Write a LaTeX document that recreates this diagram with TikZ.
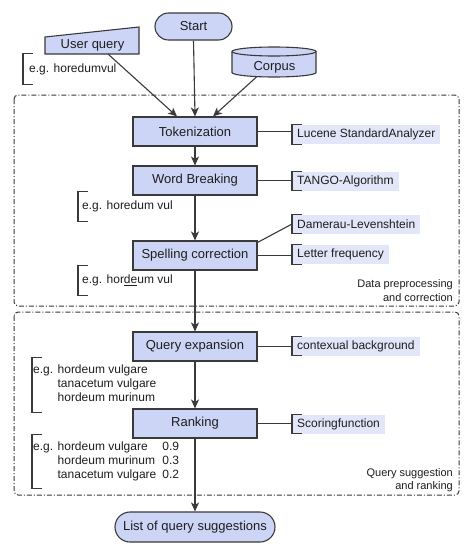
\documentclass[tikz,border=0pt]{standalone}
\usepackage{fontspec}
\setmainfont{Liberation Sans}
\usetikzlibrary{arrows.meta}
\definecolor{boxfill}{HTML}{CDD5F6}
\definecolor{annfill}{HTML}{E2E6F8}
\definecolor{edge}{HTML}{3A3A3A}
\definecolor{txt}{HTML}{1E1E1E}
\newcommand\brkt[1]{\draw[conn] ([xshift=10pt]#1.north west) -- (#1.north west) -- (#1.south west) -- ([xshift=10pt]#1.south west);}
\begin{document}
\begin{tikzpicture}[x=1pt,y=-1pt,
 proc/.style={draw=edge, fill=boxfill, line width=1.1pt, minimum width=124pt, minimum height=29pt, font=\fontsize{13}{15}\selectfont, text=txt, inner sep=0pt},
 ann/.style={fill=annfill, anchor=west, minimum height=19pt, inner xsep=5pt, inner ysep=0pt, font=\fontsize{12}{14}\selectfont, text=txt},
 ex/.style={anchor=west, inner ysep=0pt, font=\fontsize{12}{14}\selectfont, text=txt, align=left},
 conn/.style={draw=edge, line width=1.1pt},
 arr/.style={conn, -{Stealth[length=9pt,width=8pt,inset=2.5pt]}},
 grp/.style={draw=edge, line width=1pt, dash pattern=on 5pt off 2pt on 1pt off 2pt, rounded corners=4pt},
 note/.style={font=\fontsize{11}{13.5}\selectfont, align=right, anchor=east, text=txt, inner sep=0pt}
]
\useasboundingbox[fill=white] (0,0) rectangle (474,557);

% group frames
\draw[grp] (14,95) rectangle (459,306);
\draw[grp] (14,312) rectangle (459,495);
\node[note] (note1) at (453,290.5) {Data preprocessing\\and correction};
\node[note] (note2) at (453,480) {Query suggestion\\and ranking};

% start / inputs
\node[proc, minimum width=77pt, minimum height=27pt, rounded corners=13.5pt] (start) at (193.5,26.5) {Start};
\draw[conn, fill=boxfill] (45,37) -- (139,27) -- (139,54) -- (45,54) -- cycle;
\node[font=\fontsize{13}{15}\selectfont, text=txt, inner sep=0pt] (uq) at (92.5,45) {User query};
\coordinate (uqout) at (108,54);
\draw[conn, fill=boxfill] (232,51.5) -- (232,72.5)
  arc[start angle=180, end angle=360, x radius=42pt, y radius=4.5pt] -- (316,51.5)
  arc[start angle=0, end angle=180, x radius=42pt, y radius=4.5pt] -- cycle;
\draw[conn] (232,51.5) arc[start angle=180, end angle=360, x radius=42pt, y radius=4.5pt];
\node[font=\fontsize{13}{15}\selectfont, text=txt, inner sep=0pt] (corpus) at (274.5,67.5) {Corpus};
\coordinate (corpusout) at (257,76.5);

\node[ex, inner xsep=6pt, minimum height=30pt] (ex1) at (23,69) {e.g. horedumvul};
\brkt{ex1}

% process steps
\node[proc] (tok) at (195,131.5) {Tokenization};
\node[proc] (wb) at (195,180.5) {Word Breaking};
\node[proc] (sc) at (195,255.5) {Spelling correction};
\node[proc] (qe) at (195,346.5) {Query expansion};
\node[proc] (rk) at (195,423.5) {Ranking};
\node[proc, minimum width=160pt, minimum height=30pt, rounded corners=15pt] (list) at (195,527) {List of query suggestions};

% annotations right
\node[ann] (luc) at (292,134.5) {Lucene StandardAnalyzer};
\node[ann] (tango) at (292,181) {TANGO-Algorithm};
\node[ann] (dam) at (292,224) {Damerau-Levenshtein};
\node[ann] (lf) at (292,254.5) {Letter frequency};
\node[ann] (ctx) at (292,346) {contexual background};
\node[ann] (score) at (292,424) {Scoringfunction};
\brkt{luc}
\brkt{tango}
\brkt{dam}
\brkt{lf}
\brkt{ctx}
\brkt{score}

\draw[conn] (tok.east) -- (tok.east -| luc.west);
\draw[conn] (wb.east) -- (wb.east -| tango.west);
\draw[conn] ([yshift=-2pt]sc.north east) -- (dam.west);
\draw[conn] (sc.east) -- (sc.east -| lf.west);
\draw[conn] (qe.east) -- (qe.east -| ctx.west);
\draw[conn] (rk.east) -- (rk.east -| score.west);

% examples left
\node[ex, inner xsep=4pt, minimum height=29pt] (ex2) at (78,206.5) {e.g. horedum vul};
\node[ex, inner xsep=4pt, minimum height=29pt] (ex3) at (78,280.5) {e.g. hor\underline{de}um vul};
\node[ex, inner xsep=1pt, minimum height=54pt] (ex4) at (32,385) {\begin{tabular}{@{}l@{ }l@{}}e.g. & hordeum vulgare\\ & tanacetum vulgare\\ & hordeum murinum\end{tabular}};
\node[ex, inner xsep=1pt, minimum height=53pt] (ex5) at (32,461.5) {\begin{tabular}{@{}l@{ }l@{\hspace{6pt}}l@{}}e.g. & hordeum vulgare & 0.9\\ & hordeum murinum & 0.3\\ & tanacetum vulgare & 0.2\end{tabular}};
\brkt{ex2}
\brkt{ex3}
\brkt{ex4}
\brkt{ex5}

% arrows
\draw[arr] (uqout) -- ([xshift=-18pt]tok.north);
\draw[arr] (start.south) -- (tok.north);
\draw[arr] (corpusout) -- ([xshift=18pt]tok.north);
\draw[arr] (tok.south) -- (wb.north);
\draw[arr] (wb.south) -- (sc.north);
\draw[arr] (sc.south) -- (qe.north);
\draw[arr] (qe.south) -- (rk.north);
\draw[arr] (rk.south) -- (list.north);
\end{tikzpicture}
\end{document}
